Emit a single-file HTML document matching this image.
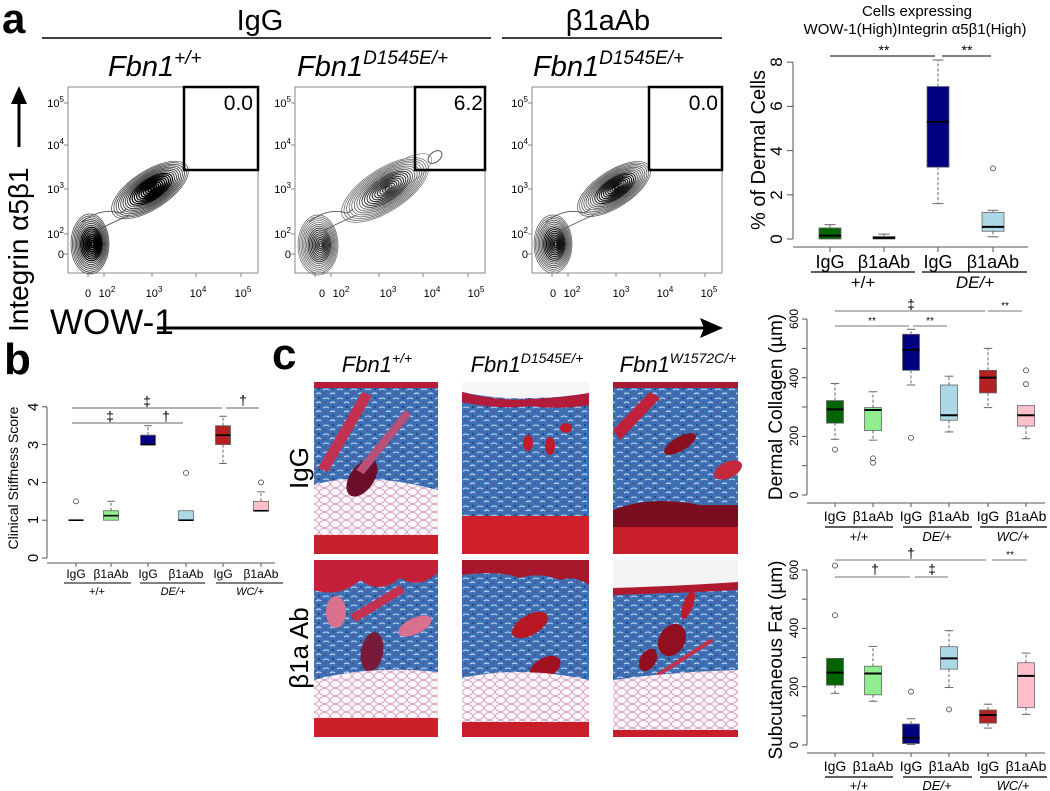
<!DOCTYPE html>
<html><head><meta charset="utf-8"><style>
html,body{margin:0;padding:0;background:#fff}
svg{display:block}
text{font-family:"Liberation Sans",sans-serif;fill:#000}
</style></head><body>
<svg id="s" width="1050" height="791" viewBox="0 0 1050 791" xmlns="http://www.w3.org/2000/svg">
<defs>
<pattern id="tex" width="14" height="9" patternUnits="userSpaceOnUse">
<rect width="14" height="9" fill="#3d6fb4"/>
<path d="M1 3 q3 -2 6 0 M8 7 q3 -2 5 0" stroke="#c2d8f0" stroke-width="1.1" fill="none"/>
<circle cx="11" cy="2" r="0.9" fill="#2a2a55"/>
<circle cx="3" cy="7" r="0.7" fill="#8a2a55"/>
</pattern>
<pattern id="fat" width="11" height="8" patternUnits="userSpaceOnUse">
<rect width="11" height="8" fill="#fbf7fa"/>
<ellipse cx="5.5" cy="4" rx="5" ry="3.6" fill="none" stroke="#d9a3c6" stroke-width="0.9"/>
</pattern>
</defs>

<!-- Panel a headers -->
<text x="2" y="33" font-size="42" font-weight="bold">a</text>
<text x="260" y="30" font-size="29" text-anchor="middle">IgG</text>
<line x1="42" y1="38" x2="491" y2="38" stroke="#000" stroke-width="1.5"/>
<text x="608" y="30" font-size="29" text-anchor="middle">β1aAb</text>
<line x1="502" y1="38" x2="722" y2="38" stroke="#000" stroke-width="1.5"/>
<text x="108" y="76" font-size="29" font-style="italic">Fbn1<tspan font-size="19" dy="-12">+/+</tspan></text>
<text x="297" y="76" font-size="29" font-style="italic">Fbn1<tspan font-size="19" dy="-12">D1545E/+</tspan></text>
<text x="533" y="76" font-size="29" font-style="italic">Fbn1<tspan font-size="19" dy="-12">D1545E/+</tspan></text>

<g id="flows"></g>

<text transform="translate(28,332) rotate(-90)" font-size="28">Integrin α5β1</text>
<line x1="19" y1="147" x2="19" y2="100" stroke="#000" stroke-width="3"/>
<polygon points="19,86 11,104 27,104" fill="#000"/>
<text x="50" y="334" font-size="35">WOW-1</text>
<line x1="157" y1="328" x2="705" y2="328" stroke="#000" stroke-width="3"/>
<polygon points="723,328 700,318 704,328 700,338" fill="#000"/>

<!-- Panel a right -->
<text x="917" y="16" font-size="15" text-anchor="middle">Cells expressing</text>
<text x="915" y="34" font-size="15" text-anchor="middle">WOW-1(High)Integrin α5β1(High)</text>
<text transform="translate(765,150) rotate(-90)" font-size="20" text-anchor="middle">% of Dermal Cells</text>
<g id="pa"></g>
<line x1="830" y1="56" x2="935" y2="56" stroke="#000" stroke-width="1"/>
<line x1="942" y1="56" x2="991" y2="56" stroke="#000" stroke-width="1"/>
<text x="884" y="55" font-size="14" text-anchor="middle">**</text>
<text x="967" y="55" font-size="14" text-anchor="middle">**</text>
<text x="830" y="268" font-size="18" text-anchor="middle">IgG</text>
<text x="884" y="268" font-size="18" text-anchor="middle">β1aAb</text>
<text x="938" y="268" font-size="18" text-anchor="middle">IgG</text>
<text x="993" y="268" font-size="18" text-anchor="middle">β1aAb</text>
<line x1="811" y1="272" x2="915" y2="272" stroke="#000" stroke-width="1.3"/>
<line x1="922" y1="272" x2="1027" y2="272" stroke="#000" stroke-width="1.3"/>
<text x="863" y="288" font-size="17" text-anchor="middle">+/+</text>
<text x="975" y="288" font-size="17" text-anchor="middle" font-style="italic">DE/+</text>

<!-- Panel b -->
<text x="4" y="374" font-size="44" font-weight="bold">b</text>
<text transform="translate(18,478) rotate(-90)" font-size="14" text-anchor="middle">Clinical Stiffness Score</text>
<g id="pb"></g>
<line x1="72" y1="408" x2="222" y2="408" stroke="#666" stroke-width="1"/>
<line x1="226" y1="408" x2="259" y2="408" stroke="#666" stroke-width="1"/>
<line x1="72" y1="423" x2="183" y2="423" stroke="#666" stroke-width="1"/>
<text x="147" y="406" font-size="14" text-anchor="middle">‡</text>
<text x="243" y="405" font-size="14" text-anchor="middle">†</text>
<text x="110" y="421" font-size="14" text-anchor="middle">‡</text>
<text x="166" y="421" font-size="14" text-anchor="middle">†</text>
<g font-size="12" text-anchor="middle">
<text x="76" y="578">IgG</text><text x="111" y="578">β1aAb</text>
<text x="148" y="578">IgG</text><text x="186" y="578">β1aAb</text>
<text x="223" y="578">IgG</text><text x="261" y="578">β1aAb</text>
<text x="97" y="595" font-size="11">+/+</text>
<text x="173" y="595" font-size="11" font-style="italic">DE/+</text>
<text x="250" y="595" font-size="11" font-style="italic">WC/+</text>
</g>
<line x1="64" y1="583" x2="131" y2="583" stroke="#000"/>
<line x1="140" y1="583" x2="205" y2="583" stroke="#000"/>
<line x1="216" y1="583" x2="283" y2="583" stroke="#000"/>

<!-- Panel c -->
<text x="272" y="369" font-size="44" font-weight="bold">c</text>
<text x="377" y="372" font-size="22" font-style="italic" text-anchor="middle">Fbn1<tspan font-size="14" dy="-9">+/+</tspan></text>
<text x="527" y="372" font-size="22" font-style="italic" text-anchor="middle">Fbn1<tspan font-size="14" dy="-9">D1545E/+</tspan></text>
<text x="678" y="372" font-size="22" font-style="italic" text-anchor="middle">Fbn1<tspan font-size="14" dy="-9">W1572C/+</tspan></text>
<text transform="translate(308,468) rotate(-90)" font-size="26" text-anchor="middle">IgG</text>
<text transform="translate(308,648) rotate(-90)" font-size="26" text-anchor="middle">β1a Ab</text>

<!-- histology row1 -->
<g>
<rect x="314" y="382" width="124" height="172" fill="url(#tex)"/>
<rect x="314" y="382" width="124" height="6" fill="#b81c38"/>
<path d="M314 485 Q360 470 438 490 L438 535 L314 535Z" fill="url(#fat)"/>
<rect x="314" y="535" width="124" height="19" fill="#c8202c"/>
<path d="M318 468 L362 392 L372 396 L328 472Z" fill="#c43050"/>
<ellipse cx="362" cy="478" rx="12" ry="21" transform="rotate(35 362 478)" fill="#6a0e2a"/>
<path d="M356 470 L405 410 L411 415 L364 474Z" fill="#b95077"/>

<rect x="462" y="382" width="127" height="172" fill="url(#tex)"/>
<path d="M462 382 H589 V393 Q560 398 530 398 Q500 400 462 392Z" fill="#f7f5f6"/>
<path d="M462 392 Q500 402 530 399 Q560 398 589 393 V405 Q560 410 530 406 Q500 410 462 402Z" fill="#b31b3a"/>
<ellipse cx="528" cy="443" rx="5" ry="8" fill="#c01a2c"/><ellipse cx="550" cy="446" rx="5" ry="9" fill="#c01a2c"/><ellipse cx="566" cy="428" rx="6" ry="5" fill="#c01a2c"/>
<rect x="462" y="516" width="127" height="38" fill="#d0202c"/>

<rect x="613" y="382" width="125" height="172" fill="url(#tex)"/>
<rect x="613" y="382" width="125" height="6" fill="#a81a34"/>
<path d="M613 430 L650 392 L660 398 L620 440Z" fill="#c0203a"/>
<ellipse cx="680" cy="444" rx="18" ry="7" transform="rotate(-30 680 444)" fill="#8a1020"/>
<ellipse cx="728" cy="470" rx="15" ry="8" transform="rotate(-25 728 470)" fill="#c4283c"/>
<path d="M613 510 Q650 495 700 505 L738 505 L738 530 L613 530Z" fill="#7a0e20"/>
<rect x="613" y="527" width="125" height="27" fill="#c81e2a"/>
</g>
<!-- histology row2 -->
<g>
<rect x="314" y="560" width="124" height="177" fill="url(#tex)"/>
<path d="M314 560 H438 V572 Q420 590 400 578 Q380 595 360 580 Q340 598 314 590Z" fill="#c4203a"/>
<ellipse cx="336" cy="612" rx="10" ry="16" fill="#d8708e"/>
<path d="M350 615 L400 585 L405 592 L356 622Z" fill="#c43050"/>
<ellipse cx="415" cy="626" rx="18" ry="8" transform="rotate(-25 415 626)" fill="#d8708e"/>
<ellipse cx="372" cy="652" rx="11" ry="20" transform="rotate(10 372 652)" fill="#7a1a3a"/>
<path d="M314 680 Q370 665 438 672 L438 718 L314 718Z" fill="url(#fat)"/>
<rect x="314" y="718" width="124" height="19" fill="#cc1f2a"/>

<rect x="462" y="560" width="127" height="177" fill="url(#tex)"/>
<path d="M462 560 H589 V585 Q575 575 560 580 Q540 572 520 578 Q500 570 462 575Z" fill="#a8182c"/>
<ellipse cx="530" cy="625" rx="20" ry="10" transform="rotate(-30 530 625)" fill="#b81824"/>
<ellipse cx="545" cy="668" rx="17" ry="10" transform="rotate(-30 545 668)" fill="#a01020"/>
<path d="M462 678 Q520 665 589 680 L589 722 L462 722Z" fill="url(#fat)"/>
<rect x="462" y="722" width="127" height="15" fill="#c81e2a"/>

<rect x="613" y="560" width="125" height="177" fill="url(#tex)"/>
<path d="M613 560 H738 V584 Q680 588 613 590Z" fill="#f3f3f5"/>
<path d="M613 588 Q680 586 738 582 V590 Q680 593 613 595Z" fill="#b01a30"/>
<ellipse cx="688" cy="605" rx="5" ry="15" transform="rotate(20 688 605)" fill="#c01a2c"/>
<ellipse cx="672" cy="640" rx="13" ry="17" transform="rotate(30 672 640)" fill="#901020"/>
<path d="M650 680 L712 640" stroke="#c8304a" stroke-width="4"/>
<ellipse cx="648" cy="660" rx="8" ry="12" transform="rotate(30 648 660)" fill="#901020"/>
<path d="M613 680 Q670 672 738 670 L738 732 L613 732Z" fill="url(#fat)"/>
<rect x="613" y="730" width="125" height="7" fill="#c81e2a"/>
</g>

<!-- Dermal collagen -->
<text transform="translate(782,407) rotate(-90)" font-size="19" text-anchor="middle">Dermal Collagen (µm)</text>
<g id="pc"></g>
<line x1="835" y1="311" x2="985" y2="311" stroke="#777"/>
<line x1="988" y1="311" x2="1022" y2="311" stroke="#777"/>
<line x1="835" y1="326" x2="909" y2="326" stroke="#777"/>
<line x1="913" y1="326" x2="947" y2="326" stroke="#777"/>
<text x="911" y="309" font-size="14" text-anchor="middle">‡</text>
<text x="1005" y="309" font-size="10" text-anchor="middle">**</text>
<text x="872" y="324" font-size="10" text-anchor="middle">**</text>
<text x="930" y="324" font-size="10" text-anchor="middle">**</text>
<g font-size="14" text-anchor="middle">
<text x="835" y="521">IgG</text><text x="873" y="521">β1aAb</text>
<text x="911" y="521">IgG</text><text x="949" y="521">β1aAb</text>
<text x="988" y="521">IgG</text><text x="1026" y="521">β1aAb</text>
<text x="859" y="541" font-size="13">+/+</text>
<text x="937" y="541" font-size="13" font-style="italic">DE/+</text>
<text x="1013" y="541" font-size="13" font-style="italic">WC/+</text>
</g>
<line x1="825" y1="527" x2="893" y2="527" stroke="#000" stroke-width="1.3"/>
<line x1="903" y1="527" x2="972" y2="527" stroke="#000" stroke-width="1.3"/>
<line x1="980" y1="527" x2="1047" y2="527" stroke="#000" stroke-width="1.3"/>

<!-- Subcutaneous fat -->
<text transform="translate(782,660) rotate(-90)" font-size="19" text-anchor="middle">Subcutaneous Fat (µm)</text>
<g id="pd"></g>
<line x1="835" y1="560" x2="986" y2="560" stroke="#777"/>
<line x1="992" y1="560" x2="1027" y2="560" stroke="#777"/>
<line x1="835" y1="577" x2="910" y2="577" stroke="#777"/>
<line x1="915" y1="577" x2="948" y2="577" stroke="#777"/>
<text x="911" y="558" font-size="14" text-anchor="middle">†</text>
<text x="1010" y="558" font-size="10" text-anchor="middle">**</text>
<text x="875" y="574" font-size="14" text-anchor="middle">†</text>
<text x="932" y="574" font-size="14" text-anchor="middle">‡</text>
<g font-size="14" text-anchor="middle">
<text x="835" y="771">IgG</text><text x="873" y="771">β1aAb</text>
<text x="911" y="771">IgG</text><text x="949" y="771">β1aAb</text>
<text x="988" y="771">IgG</text><text x="1026" y="771">β1aAb</text>
<text x="859" y="790" font-size="13">+/+</text>
<text x="937" y="790" font-size="13" font-style="italic">DE/+</text>
<text x="1013" y="790" font-size="13" font-style="italic">WC/+</text>
</g>
<line x1="825" y1="777" x2="893" y2="777" stroke="#000" stroke-width="1.3"/>
<line x1="903" y1="777" x2="972" y2="777" stroke="#000" stroke-width="1.3"/>
<line x1="980" y1="777" x2="1047" y2="777" stroke="#000" stroke-width="1.3"/>

<!-- flow plot static text -->
<g font-size="11" text-anchor="end">
<text x="64" y="107">10<tspan font-size="8" dy="-5">5</tspan></text>
<text x="64" y="149">10<tspan font-size="8" dy="-5">4</tspan></text>
<text x="64" y="193">10<tspan font-size="8" dy="-5">3</tspan></text>
<text x="64" y="238">10<tspan font-size="8" dy="-5">2</tspan></text>
<text x="64" y="258">0</text>
<text x="291" y="107">10<tspan font-size="8" dy="-5">5</tspan></text>
<text x="291" y="149">10<tspan font-size="8" dy="-5">4</tspan></text>
<text x="291" y="193">10<tspan font-size="8" dy="-5">3</tspan></text>
<text x="291" y="238">10<tspan font-size="8" dy="-5">2</tspan></text>
<text x="291" y="258">0</text>
<text x="528" y="107">10<tspan font-size="8" dy="-5">5</tspan></text>
<text x="528" y="149">10<tspan font-size="8" dy="-5">4</tspan></text>
<text x="528" y="193">10<tspan font-size="8" dy="-5">3</tspan></text>
<text x="528" y="238">10<tspan font-size="8" dy="-5">2</tspan></text>
<text x="528" y="258">0</text>
</g>
<g font-size="11" text-anchor="middle">
<text x="88" y="297">0</text><text x="107" y="297">10<tspan font-size="8" dy="-5">2</tspan></text><text x="154" y="297">10<tspan font-size="8" dy="-5">3</tspan></text><text x="198" y="297">10<tspan font-size="8" dy="-5">4</tspan></text><text x="243" y="297">10<tspan font-size="8" dy="-5">5</tspan></text>
<text x="322" y="297">0</text><text x="341" y="297">10<tspan font-size="8" dy="-5">2</tspan></text><text x="388" y="297">10<tspan font-size="8" dy="-5">3</tspan></text><text x="432" y="297">10<tspan font-size="8" dy="-5">4</tspan></text><text x="476" y="297">10<tspan font-size="8" dy="-5">5</tspan></text>
<text x="553" y="297">0</text><text x="572" y="297">10<tspan font-size="8" dy="-5">2</tspan></text><text x="621" y="297">10<tspan font-size="8" dy="-5">3</tspan></text><text x="665" y="297">10<tspan font-size="8" dy="-5">4</tspan></text><text x="709" y="297">10<tspan font-size="8" dy="-5">5</tspan></text>
</g>
<g font-size="21" text-anchor="end">
<text x="253" y="110">0.0</text>
<text x="483" y="110">6.2</text>
<text x="718" y="110">0.0</text>
</g>
<!-- axis tick labels (rotated) -->
<g font-size="17" text-anchor="middle">
<text transform="translate(782,239) rotate(-90)">0</text>
<text transform="translate(782,195) rotate(-90)">2</text>
<text transform="translate(782,151) rotate(-90)">4</text>
<text transform="translate(782,106) rotate(-90)">6</text>
<text transform="translate(782,62) rotate(-90)">8</text>
</g>
<g font-size="12" text-anchor="middle">
<text transform="translate(798,495) rotate(-90)">0</text>
<text transform="translate(798,436) rotate(-90)">200</text>
<text transform="translate(798,378) rotate(-90)">400</text>
<text transform="translate(798,319) rotate(-90)">600</text>
<text transform="translate(798,745) rotate(-90)">0</text>
<text transform="translate(798,687) rotate(-90)">200</text>
<text transform="translate(798,628) rotate(-90)">400</text>
<text transform="translate(798,570) rotate(-90)">600</text>
</g>
<g font-size="15" text-anchor="middle">
<text transform="translate(38,558) rotate(-90)">0</text>
<text transform="translate(38,520) rotate(-90)">1</text>
<text transform="translate(38,482) rotate(-90)">2</text>
<text transform="translate(38,445) rotate(-90)">3</text>
<text transform="translate(38,407) rotate(-90)">4</text>
</g>
</svg>
<script>
var NS="http://www.w3.org/2000/svg";
function el(p,t,a){var e=document.createElementNS(NS,t);for(var k in a)e.setAttribute(k,a[k]);p.appendChild(e);return e;}
function box(g,Y,cx,w,q1,md,q3,lo,hi,outs,fill,lw){
 var h=w/2,cw=w/4;
 if(hi>q3){el(g,'line',{x1:cx,x2:cx,y1:Y(q3),y2:Y(hi),stroke:'#666','stroke-dasharray':'3,2'});el(g,'line',{x1:cx-cw,x2:cx+cw,y1:Y(hi),y2:Y(hi),stroke:'#666'});}
 if(lo<q1){el(g,'line',{x1:cx,x2:cx,y1:Y(q1),y2:Y(lo),stroke:'#666','stroke-dasharray':'3,2'});el(g,'line',{x1:cx-cw,x2:cx+cw,y1:Y(lo),y2:Y(lo),stroke:'#666'});}
 if(q3>q1)el(g,'rect',{x:cx-h,y:Y(q3),width:w,height:Y(q1)-Y(q3),fill:fill,stroke:'#666','stroke-width':0.8});
 el(g,'line',{x1:cx-h,x2:cx+h,y1:Y(md),y2:Y(md),stroke:'#000','stroke-width':lw||2});
 (outs||[]).forEach(function(o){el(g,'circle',{cx:cx,cy:Y(o),r:2.5,fill:'none',stroke:'#555','stroke-width':0.9});});
}
var G='#006400',LG='#90ee90',N='#000080',LB='#add8e6',R='#b22222',P='#ffc0cb';
(function(){var g=document.getElementById('pa');var Y=function(v){return 239-v*22.1;};
el(g,'line',{x1:793,x2:793,y1:Y(0),y2:Y(8),stroke:'#555'});
[0,2,4,6,8].forEach(function(v){el(g,'line',{x1:787,x2:793,y1:Y(v),y2:Y(v),stroke:'#555'});});
el(g,'line',{x1:793,x2:1028,y1:247,y2:247,stroke:'#555'});
[830,884,938,993].forEach(function(x){el(g,'line',{x1:x,x2:x,y1:247,y2:252,stroke:'#555'});});
box(g,Y,830,22,0,0.15,0.5,0,0.65,[],G);
box(g,Y,884,22,0,0.05,0.12,0,0.22,[],LG);
box(g,Y,938,22,3.25,5.3,6.9,1.6,8.1,[],N);
box(g,Y,993,22,0.35,0.55,1.2,0.1,1.3,[3.2],LB);})();
(function(){var g=document.getElementById('pb');var Y=function(v){return 558-v*37.8;};
el(g,'line',{x1:47,x2:47,y1:Y(0),y2:Y(4),stroke:'#555'});
[0,1,2,3,4].forEach(function(v){el(g,'line',{x1:42,x2:47,y1:Y(v),y2:Y(v),stroke:'#555'});});
el(g,'line',{x1:47,x2:275,y1:563,y2:563,stroke:'#555'});
[76,111,148,186,223,261].forEach(function(x){el(g,'line',{x1:x,x2:x,y1:563,y2:567,stroke:'#555'});});
box(g,Y,76,15,1,1,1,1,1,[1.5],G,1.6);
box(g,Y,111,15,1,1.12,1.25,1,1.5,[],LG,1.6);
box(g,Y,148,15,3,3,3.25,3,3.5,[],N,1.6);
box(g,Y,186,15,1,1,1.25,1,1.25,[2.25],LB,1.6);
box(g,Y,223,15,3,3.25,3.5,2.5,3.75,[],R,1.6);
box(g,Y,261,15,1.25,1.25,1.5,1.25,1.75,[2],P,1.6);})();
function axes(g,Y,ax){el(g,'line',{x1:807,x2:807,y1:Y(0),y2:Y(600),stroke:'#555'});
for(var v=0;v<=600;v+=100)el(g,'line',{x1:802,x2:807,y1:Y(v),y2:Y(v),stroke:'#555'});
el(g,'line',{x1:807,x2:1045,y1:ax,y2:ax,stroke:'#555'});
[835,873,911,949,988,1026].forEach(function(x){el(g,'line',{x1:x,x2:x,y1:ax,y2:ax+4,stroke:'#555'});});}
(function(){var g=document.getElementById('pc');var Y=function(v){return 495-v*0.2933;};axes(g,Y,503);
box(g,Y,835,17,245,292,322,190,380,[155],G);
box(g,Y,873,17,220,290,298,187,352,[125,110],LG);
box(g,Y,911,17,425,495,548,375,565,[195],N);
box(g,Y,949,17,255,272,375,215,405,[],LB);
box(g,Y,988,17,348,400,425,298,500,[],R);
box(g,Y,1026,17,235,272,305,192,305,[425,378],P);})();
(function(){var g=document.getElementById('pd');var Y=function(v){return 745-v*0.2917;};axes(g,Y,753);
box(g,Y,835,17,205,248,297,177,297,[615,445],G);
box(g,Y,873,17,172,245,270,150,338,[],LG);
box(g,Y,911,17,5,25,72,2,90,[183],N);
box(g,Y,949,17,260,297,337,197,392,[122],LB);
box(g,Y,988,17,75,103,120,58,140,[],R);
box(g,Y,1026,17,128,237,282,105,315,[],P);})();
(function(){var g=document.getElementById('flows');
var plots=[{x:68,gx:184,mid:[82,103,44,19],low:[22,157,19,30],dark:1,ext:0},{x:295,gx:415,mid:[90,103,50,21],low:[23,158,20,30],dark:0.6,ext:1},{x:532,gx:649,mid:[82,102,42,18],low:[21,157,19,29],dark:0.8,ext:0}];
plots.forEach(function(p){var x0=p.x,y0=87,W=190,H=186;
 el(g,'rect',{x:x0,y:y0,width:W,height:H,fill:'#fff',stroke:'#888','stroke-width':1});
 [16,58,102,147,167].forEach(function(t){el(g,'line',{x1:x0-4,x2:x0,y1:y0+t,y2:y0+t,stroke:'#888'});});
 [20,36,84,128,173].forEach(function(t){el(g,'line',{x1:x0+t,x2:x0+t,y1:y0+H,y2:y0+H+4,stroke:'#888'});});
 function blob(c,n,rot,dk){for(var i=n;i>=1;i--){var f=i/n;el(g,'ellipse',{cx:x0+c[0]+(1-f)*3,cy:y0+c[1],rx:c[2]*f,ry:c[3]*f,transform:'rotate('+rot+' '+(x0+c[0])+' '+(y0+c[1])+')',fill:'none',stroke:i<n*0.6?'#000':'#444','stroke-width':(0.7+1.0*dk*(1-f)).toFixed(2),opacity:(0.55+0.45*dk).toFixed(2)});}}
 blob(p.low,16,0,p.dark);
 blob(p.mid,18,-33,p.dark);
 el(g,'path',{d:'M'+(x0+14)+' '+(y0+135)+' Q'+(x0+30)+' '+(y0+122)+' '+(x0+48)+' '+(y0+125)+' Q'+(x0+52)+' '+(y0+128)+' '+(x0+58)+' '+(y0+122),fill:'none',stroke:'#555','stroke-width':0.9});
 el(g,'path',{d:'M'+(x0+30)+' '+(y0+143)+' Q'+(x0+45)+' '+(y0+135)+' '+(x0+62)+' '+(y0+128),fill:'none',stroke:'#555','stroke-width':0.9});
 if(p.ext){el(g,'ellipse',{cx:x0+140,cy:y0+70,rx:8,ry:5,transform:'rotate(-40 '+(x0+140)+' '+(y0+70)+')',fill:'none',stroke:'#555'});
  el(g,'ellipse',{cx:x0+110,cy:y0+85,rx:30,ry:12,transform:'rotate(-30 '+(x0+110)+' '+(y0+85)+')',fill:'none',stroke:'#777','stroke-width':0.6});}
 el(g,'rect',{x:p.gx,y:y0,width:x0+W-p.gx,height:83,fill:'none',stroke:'#000','stroke-width':2.5});
});})();
</script>
</body></html>
